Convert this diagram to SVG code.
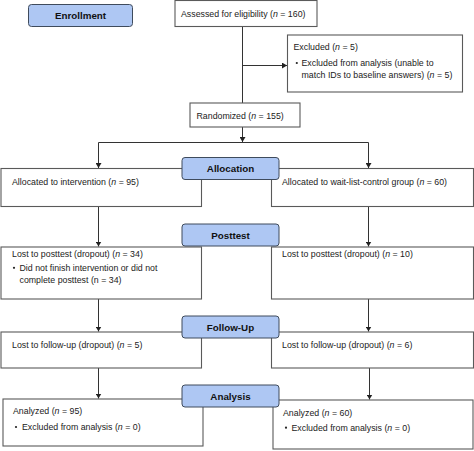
<svg xmlns="http://www.w3.org/2000/svg" width="474" height="451" viewBox="0 0 474 451">
<style>
.hdr{fill:#aec7f3;stroke:#3f4b5c;stroke-width:1}
.box{fill:#fff;stroke:#5a5a5a;stroke-width:1.1}
.ht{font-family:"Liberation Sans",Arial,sans-serif;font-size:9.8px;font-weight:bold;fill:#111;text-anchor:middle}
.t{font-family:"Liberation Sans",Arial,sans-serif;font-size:8.8px;fill:#222}
.c{fill:none;stroke:#333;stroke-width:1}
</style>
<defs>
<marker id="ah" markerWidth="6" markerHeight="6" refX="5" refY="3" orient="auto" markerUnits="userSpaceOnUse">
<path d="M0,0 L5,3 L0,6 z" fill="#222"/>
</marker>
</defs>
<rect width="474" height="451" fill="#fff"/>
<g id="connectors">
<line class="c" x1="242.5" y1="26.5" x2="242.5" y2="103"/>
<line class="c" x1="242.5" y1="65.5" x2="287" y2="65.5" marker-end="url(#ah)"/>
<line class="c" x1="242.5" y1="127" x2="242.5" y2="142" marker-end="url(#ah)"/>
<line class="c" x1="98.5" y1="142.5" x2="368.5" y2="142.5"/>
<line class="c" x1="98.5" y1="142.5" x2="98.5" y2="168" marker-end="url(#ah)"/>
<line class="c" x1="368.5" y1="142.5" x2="368.5" y2="168" marker-end="url(#ah)"/>
<line class="c" x1="98.5" y1="207" x2="98.5" y2="246.5" marker-end="url(#ah)"/>
<line class="c" x1="368.5" y1="207" x2="368.5" y2="246.5" marker-end="url(#ah)"/>
<line class="c" x1="98.5" y1="299" x2="98.5" y2="331.5" marker-end="url(#ah)"/>
<line class="c" x1="368.5" y1="299" x2="368.5" y2="331.5" marker-end="url(#ah)"/>
<line class="c" x1="98.5" y1="368" x2="98.5" y2="398.5" marker-end="url(#ah)"/>
<line class="c" x1="369.5" y1="368" x2="369.5" y2="399.5" marker-end="url(#ah)"/>
</g>
<g id="enrollment">
<rect class="hdr" x="28.5" y="4.5" width="104" height="22" rx="3"/>
<text class="ht" x="80.5" y="19">Enrollment</text>
</g>
<g id="assessed">
<rect class="box" x="175" y="0.5" width="142" height="26"/>
<text class="t" x="181" y="17">Assessed for eligibility (<tspan font-style="italic">n</tspan> = 160)</text>
</g>
<g id="excluded">
<rect class="box" x="287.5" y="35" width="175" height="57"/>
<text class="t" x="293.5" y="50">Excluded (<tspan font-style="italic">n</tspan> = 5)</text>
<circle cx="296.8" cy="63" r="1.1" fill="#222"/>
<text class="t" x="301.5" y="66">Excluded from analysis (unable to</text>
<text class="t" x="301.5" y="78">match IDs to baseline answers) (<tspan font-style="italic">n</tspan> = 5)</text>
</g>
<g id="randomized">
<rect class="box" x="190" y="103" width="110" height="24"/>
<text class="t" x="196.5" y="119">Randomized (<tspan font-style="italic">n</tspan> = 155)</text>
</g>
<g id="alloc-int">
<rect class="box" x="1" y="168.5" width="200.5" height="38"/>
<text class="t" x="12" y="185">Allocated to intervention (<tspan font-style="italic">n</tspan> = 95)</text>
</g>
<g id="alloc-ctrl">
<rect class="box" x="271.5" y="168.5" width="202" height="38"/>
<text class="t" x="282" y="185">Allocated to wait-list-control group (<tspan font-style="italic">n</tspan> = 60)</text>
</g>
<g id="post-int">
<rect class="box" x="1" y="247" width="200.5" height="52"/>
<text class="t" x="12" y="256.5">Lost to posttest (dropout) (<tspan font-style="italic">n</tspan> = 34)</text>
<circle cx="14" cy="267.8" r="1.1" fill="#222"/>
<text class="t" x="19.5" y="270.8">Did not finish intervention or did not</text>
<text class="t" x="19.5" y="283.3">complete posttest (n = 34)</text>
</g>
<g id="post-ctrl">
<rect class="box" x="271.5" y="247" width="202" height="52"/>
<text class="t" x="282" y="256.5">Lost to posttest (dropout) (<tspan font-style="italic">n</tspan> = 10)</text>
</g>
<g id="fu-int">
<rect class="box" x="1" y="332" width="200.5" height="36"/>
<text class="t" x="12" y="347.5">Lost to follow-up (dropout) (<tspan font-style="italic">n</tspan> = 5)</text>
</g>
<g id="fu-ctrl">
<rect class="box" x="271.5" y="332" width="202" height="36"/>
<text class="t" x="282" y="347.5">Lost to follow-up (dropout) (<tspan font-style="italic">n</tspan> = 6)</text>
</g>
<g id="an-int">
<rect class="box" x="3" y="399" width="200" height="47"/>
<text class="t" x="13" y="414">Analyzed (<tspan font-style="italic">n</tspan> = 95)</text>
<circle cx="16" cy="427" r="1.1" fill="#222"/>
<text class="t" x="22" y="430">Excluded from analysis (<tspan font-style="italic">n</tspan> = 0)</text>
</g>
<g id="an-ctrl">
<rect class="box" x="273" y="400" width="200" height="49"/>
<text class="t" x="283" y="415.5">Analyzed (<tspan font-style="italic">n</tspan> = 60)</text>
<circle cx="286" cy="427.7" r="1.1" fill="#222"/>
<text class="t" x="291.5" y="430.7">Excluded from analysis (<tspan font-style="italic">n</tspan> = 0)</text>
</g>
<g id="allocation">
<rect class="hdr" x="182" y="157.5" width="97" height="22" rx="3"/>
<text class="ht" x="230.5" y="172">Allocation</text>
</g>
<g id="posttest">
<rect class="hdr" x="182" y="224" width="97" height="22" rx="3"/>
<text class="ht" x="230.5" y="238.5">Posttest</text>
</g>
<g id="followup">
<rect class="hdr" x="182" y="316" width="97" height="22" rx="3"/>
<text class="ht" x="230.5" y="330.5">Follow-Up</text>
</g>
<g id="analysis">
<rect class="hdr" x="182" y="385" width="97" height="22" rx="3"/>
<text class="ht" x="230.5" y="399.5">Analysis</text>
</g>
</svg>
